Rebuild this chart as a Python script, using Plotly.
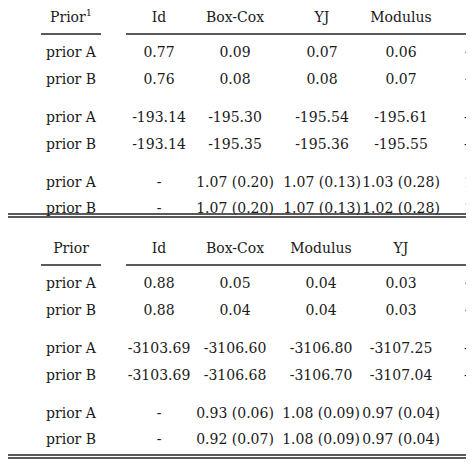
import plotly.graph_objects as go

W = 474
priors = ["prior A", "prior B"]
top_cols = ["Id", "Box-Cox", "YJ", "Modulus"]
bot_cols = ["Id", "Box-Cox", "Modulus", "YJ"]
top_prob = [["0.77", "0.09", "0.07", "0.06"], ["0.76", "0.08", "0.08", "0.07"]]
top_ml = [["-193.14", "-195.30", "-195.54", "-195.61"], ["-193.14", "-195.35", "-195.36", "-195.55"]]
top_lam = [["-", "1.07 (0.20)", "1.07 (0.13)", "1.03 (0.28)"], ["-", "1.07 (0.20)", "1.07 (0.13)", "1.02 (0.28)"]]
top_last = ["<", "<", "-20", "-20", "1.52", "1.50"]
bot_prob = [["0.88", "0.05", "0.04", "0.03"], ["0.88", "0.04", "0.04", "0.03"]]
bot_ml = [["-3103.69", "-3106.60", "-3106.80", "-3107.25"], ["-3103.69", "-3106.68", "-3106.70", "-3107.04"]]
bot_lam = [["-", "0.93 (0.06)", "1.08 (0.09)", "0.97 (0.04)"], ["-", "0.92 (0.07)", "1.08 (0.09)", "0.97 (0.04)"]]
bot_last = ["<", "<", "-34", "-34"]
footnote = "prior (see Section 3.2.1); prior B: Unit-information normal prior ("

FAMILY = "DejaVu Serif"
SIZE = 14
xs, ys, ts, pos = [], [], [], []
shapes = []

def px(x, y, text, anchor="center"):
    xs.append(x); ys.append(y); ts.append(text)
    pos.append({"center": "middle center", "left": "middle right", "right": "middle left"}[anchor])

def hline(y, x0, x1, w=1.5):
    shapes.append(dict(type="line", xref="x", yref="y", x0=x0, x1=x1, y0=y, y1=y,
                       line=dict(color="#222", width=w)))

def block(y0, cols, colx, prob, ml, lam, last, header):
    px(63, y0, header)
    for c, x in zip(cols, colx):
        px(x, y0, c)
    px(463, y0, "D", anchor="left")
    hline(y0 + 16, 33, 93)
    hline(y0 + 16, 118, 474)
    rows = [(35, prob), (62, prob), (100, ml), (127, ml), (165, lam), (191, lam)]
    for i, (dy, data) in enumerate(rows):
        vals = data[i % 2]
        px(63, y0 + dy, priors[i % 2])
        for v, x in zip(vals, colx):
            px(x, y0 + dy, v)
        if i < len(last):
            px(456, y0 + dy, last[i], anchor="left")
    px(-3, y0 + 49, ")", anchor="left")
    px(-5, y0 + 114, "<i>T</i>)", anchor="left")

block(10, top_cols, [151, 227, 314, 393], top_prob, top_ml, top_lam, top_last, "Prior<sup>1</sup>")
hline(206, 0, 474, 1.5)
hline(209, 0, 474, 1.5)
block(241, bot_cols, [151, 227, 313, 393], bot_prob, bot_ml, bot_lam, bot_last, "Prior")
hline(447, 0, 474, 1.5)
hline(450, 0, 474, 1.5)
px(-6, 466, footnote, anchor="left")

fig = go.Figure(go.Scatter(x=xs, y=ys, text=ts, mode="text", textposition=pos,
                           cliponaxis=False, hoverinfo="skip",
                           textfont=dict(family=FAMILY, size=SIZE, color="#1a1a1a")))
fig.update_layout(width=W, height=W, margin=dict(l=0, r=0, t=0, b=0),
                  paper_bgcolor="white", plot_bgcolor="white", showlegend=False,
                  xaxis=dict(visible=False, range=[0, W]),
                  yaxis=dict(visible=False, range=[W, 0]),
                  shapes=shapes)
fig.write_html("out.html")
